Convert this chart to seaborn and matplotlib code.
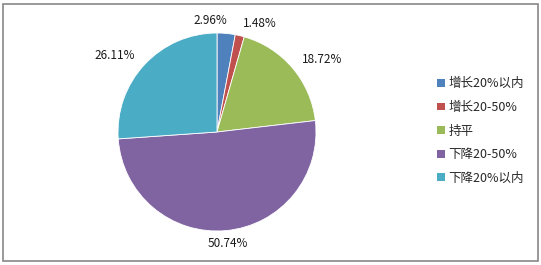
import matplotlib
matplotlib.use("Agg")
import matplotlib.pyplot as plt
import matplotlib.patches as mpatches
import seaborn as sns

categories = ["增长20%以内", "增长20-50%", "持平", "下降20-50%", "下降20%以内"]
values = [2.96, 1.48, 18.72, 50.74, 26.11]
colors = ["#4F81BD", "#C0504D", "#9BBB59", "#8064A2", "#4BACC6"]
label_align = ["right", "left", "left", "center", "right"]

sns.set_theme(style="white")
plt.rcParams['font.family'] = ['Noto Sans CJK SC', 'DejaVu Sans']

W, H = 541, 265
fig = plt.figure(figsize=(W / 100, H / 100), dpi=100)
fig.patch.set_facecolor("white")

cx, cy, r = 217, 132, 99
ax = fig.add_axes([(cx - r) / W, (H - cy - r) / H, 2 * r / W, 2 * r / H])
pal = sns.color_palette(colors)
labels = [f"{v:.2f}%" for v in values]
wedges, texts = ax.pie(values, colors=pal, startangle=90, counterclock=False,
                       labels=labels, labeldistance=1.13,
                       wedgeprops=dict(edgecolor="white", linewidth=0.6),
                       textprops=dict(fontsize=8.5, color="#1a1a1a"))
for t, ha in zip(texts, label_align):
    t.set_horizontalalignment(ha)
    t.set_verticalalignment("center")
    t.set_clip_on(False)
ax.set_xlim(-1, 1)
ax.set_ylim(-1, 1)
ax.set_aspect("equal")
ax.axis("off")

handles = [mpatches.Patch(facecolor=c, edgecolor="none") for c in pal]
fig.legend(handles, categories, loc="center left",
           bbox_to_anchor=(437 / W, (H - 131) / H), frameon=False,
           fontsize=9, handlelength=0.6, handleheight=0.6, handletextpad=0.3,
           labelspacing=0.85, borderaxespad=0, borderpad=0)

border = mpatches.Rectangle((2.5 / W, 4.5 / H), (W - 6) / W, (H - 8) / H,
                            transform=fig.transFigure, fill=False,
                            edgecolor="#888888", linewidth=1.2)
fig.patches.append(border)

fig.savefig("out.png", dpi=100)
